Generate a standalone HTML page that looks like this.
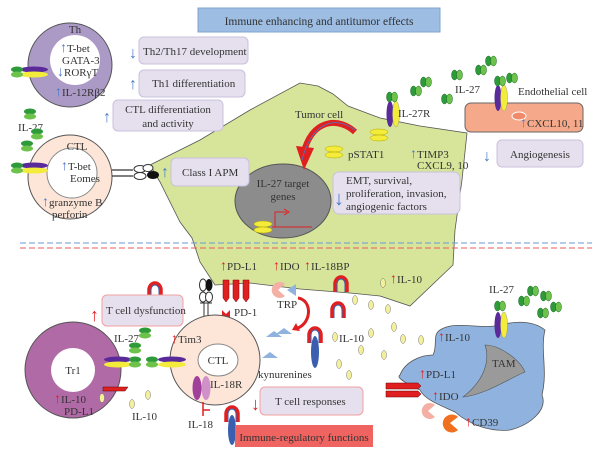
<!DOCTYPE html>
<html><head><meta charset="utf-8"><style>
html,body{margin:0;padding:0;background:#fff;}
svg{display:block;}
text{font-family:"Liberation Serif",serif;fill:#333;}
.r{fill:#e02020;font-size:14px;}
.b{fill:#4a78c8;font-size:14px;}
</style></head><body>
<svg width="600" height="450" viewBox="0 0 600 450" xmlns="http://www.w3.org/2000/svg">
<defs>
<g id="il27"><ellipse cx="-2.5" cy="0" rx="3" ry="5" fill="#2e9a3a" stroke="#1a6a24" stroke-width="0.5"/><ellipse cx="2.5" cy="0" rx="3" ry="5" fill="#6cc24a" stroke="#1a6a24" stroke-width="0.5"/></g>
<g id="il27h"><ellipse cx="0" cy="-2.5" rx="6" ry="3" fill="#2e9a3a"/><ellipse cx="0" cy="2.5" rx="6" ry="3" fill="#6cc24a"/></g>
<g id="stat"><ellipse cx="0" cy="-3" rx="9" ry="3" fill="#f3ec3a" stroke="#b8a800" stroke-width="0.5"/><ellipse cx="0" cy="3" rx="9" ry="3" fill="#f3ec3a" stroke="#b8a800" stroke-width="0.5"/></g>
<g id="il10"><ellipse cx="0" cy="0" rx="2.5" ry="4.5" fill="#f4ef9a" stroke="#777" stroke-width="0.5"/></g>
<g id="rech"><ellipse cx="0" cy="-2.5" rx="14" ry="3" fill="#5a2a9a"/><ellipse cx="0" cy="2.5" rx="14" ry="3" fill="#f3ec3a"/></g>
<g id="recv"><ellipse cx="-3" cy="0" rx="3.5" ry="13" fill="#5a2a9a"/><ellipse cx="3" cy="0" rx="3.5" ry="13" fill="#f3ec3a" stroke="#888" stroke-width="0.4"/></g>
<g id="arch"><path d="M-6,8 V0 A6,7 0 0 1 6,0 V8" fill="none" stroke="#e02020" stroke-width="3.5"/><path d="M-4,8 V0 A4,5 0 0 1 4,0 V8" fill="none" stroke="#3b5fae" stroke-width="1"/></g>
</defs>

<rect x="198" y="8" width="242" height="24" fill="#9dbde3" stroke="#7fa4d2"/>
<text x="319" y="25" font-size="11.5" text-anchor="middle">Immune enhancing and antitumor effects</text>

<path d="M150,165 L200,140 L250,110 L300,83 L318,86 L333,94 L348,106 L380,118 L420,126 L467,133 L462,180 L455,230 L453,265 L410,306 L380,296 L350,293 L300,289 L250,283 L215,285 L200,262 L192,238 L180,222 L160,182 Z" fill="#d6e59a" stroke="#555" stroke-width="0.8"/>

<line x1="20" y1="243" x2="592" y2="243" stroke="#6a9ad4" stroke-dasharray="6,3" stroke-width="1"/>
<line x1="20" y1="248" x2="592" y2="248" stroke="#e85a5a" stroke-dasharray="6,3" stroke-width="1"/>

<ellipse cx="283" cy="201" rx="48" ry="37" fill="#8c8c8c" stroke="#555"/>
<text x="283" y="187" font-size="11" text-anchor="middle">IL-27 target</text>
<text x="283" y="200" font-size="11" text-anchor="middle">genes</text>
<use href="#stat" x="263" y="227"/>
<path d="M272,227 H312 M275,227 V212 H287" fill="none" stroke="#e02020" stroke-width="1"/>
<path d="M284,209 L289,212 L284,215" fill="none" stroke="#e02020"/>
<path d="M355,132 C340,118 315,118 305,148" fill="none" stroke="#e02020" stroke-width="6"/>
<path d="M296,146 L304,170 L314,148 Z" fill="#e02020"/>
<path d="M355,130 C335,115 312,122 302,160" fill="none" stroke="#4a78c8" stroke-width="0.8"/>
<text x="295" y="118" font-size="11">Tumor cell</text>

<circle cx="70" cy="65" r="42" fill="#ab9ac6" stroke="#555"/>
<circle cx="75" cy="60" r="25" fill="#fff"/>
<text x="75" y="33" font-size="11" text-anchor="middle">Th</text>
<text x="60" y="52" font-size="11"><tspan class="b">↑</tspan>T-bet</text>
<text x="62" y="64" font-size="11">GATA-3</text>
<text x="57" y="76" font-size="11"><tspan class="b">↓</tspan>RORγT</text>
<text x="55" y="96" font-size="11"><tspan class="b">↑</tspan>IL-12Rβ2</text>
<use href="#rech" x="34" y="72"/><use href="#il27h" x="17" y="72"/>

<use href="#il27h" x="30" y="114"/>
<text x="18" y="131" font-size="11">IL-27</text>
<use href="#il27h" x="37" y="134"/>
<use href="#il27h" x="27" y="146"/>

<circle cx="70" cy="177" r="42" fill="#fde6d8" stroke="#555"/>
<circle cx="72" cy="173" r="25" fill="#fff" stroke="#888"/>
<text x="77" y="150" font-size="11" text-anchor="middle">CTL</text>
<text x="61" y="170" font-size="11"><tspan class="b">↑</tspan>T-bet</text>
<text x="70" y="182" font-size="11">Eomes</text>
<text x="42" y="206" font-size="11"><tspan class="b">↑</tspan>granzyme B</text>
<text x="52" y="218" font-size="11">perforin</text>
<use href="#rech" x="34" y="168"/><use href="#il27h" x="17" y="168"/>
<path d="M112,170 H133 M112,176 H133" stroke="#333" stroke-width="1.2"/>
<ellipse cx="140" cy="169" rx="6" ry="3.5" fill="#fff" stroke="#333"/>
<ellipse cx="140" cy="176" rx="6" ry="3.5" fill="#fff" stroke="#333"/>
<ellipse cx="148" cy="168" rx="5" ry="3.5" fill="#fff" stroke="#333"/>
<ellipse cx="153" cy="175" rx="6" ry="4" fill="#111"/>

<g font-size="11">
<rect x="139" y="37" width="109" height="27" rx="5" fill="#e6e0ee" stroke="#c9c0dc"/>
<text x="143" y="55">Th2/Th17 development</text>
<text x="129" y="58" class="b" style="font-size:16px">↓</text>
<rect x="139" y="70" width="106" height="27" rx="5" fill="#e6e0ee" stroke="#c9c0dc"/>
<text x="152" y="87">Th1 differentiation</text>
<text x="129" y="89" class="b" style="font-size:16px">↑</text>
<rect x="113" y="100" width="110" height="31" rx="5" fill="#e6e0ee" stroke="#c9c0dc"/>
<text x="168" y="113" text-anchor="middle">CTL differentiation</text>
<text x="168" y="127" text-anchor="middle">and activity</text>
<text x="103" y="122" class="b" style="font-size:16px">↑</text>
<rect x="171" y="158" width="78" height="28" rx="5" fill="#e6e0ee" stroke="#c9c0dc"/>
<text x="182" y="176">Class I APM</text>
<text x="161" y="177" class="b" style="font-size:16px">↑</text>
<rect x="333" y="172" width="127" height="42" rx="6" fill="#e6e0ee" stroke="#c9c0dc"/>
<text x="346" y="184">EMT, survival,</text>
<text x="346" y="197">proliferation, invasion,</text>
<text x="346" y="210">angiogenic factors</text>
<text x="334" y="205" class="b" style="font-size:20px">↓</text>
<rect x="497" y="140" width="86" height="27" rx="5" fill="#e6e0ee" stroke="#c9c0dc"/>
<text x="540" y="158" text-anchor="middle">Angiogenesis</text>
<text x="483" y="161" class="b" style="font-size:16px">↓</text>
</g>

<use href="#stat" x="379" y="135"/>
<use href="#stat" x="334" y="152"/>
<text x="348" y="158" font-size="11">pSTAT1</text>
<use href="#recv" x="393" y="114"/><use href="#il27" x="392" y="97"/>
<text x="398" y="117" font-size="11">IL-27R</text>
<text x="410" y="158" font-size="11"><tspan class="b">↑</tspan>TIMP3</text>
<text x="417" y="169" font-size="11">CXCL9, 10</text>

<use href="#il27" x="416" y="91"/><use href="#il27" x="426" y="82"/>
<use href="#il27" x="447" y="99"/><use href="#il27" x="457" y="75"/>
<use href="#il27" x="481" y="70"/><use href="#il27" x="491" y="61"/>
<use href="#il27" x="512" y="78"/>
<text x="455" y="93" font-size="11">IL-27</text>
<rect x="465" y="103" width="118" height="29" rx="6" fill="#f5a98a" stroke="#666"/>
<ellipse cx="519" cy="116" rx="7" ry="4" fill="#f08a6a" stroke="#fff"/>
<use href="#recv" x="501" y="98"/><use href="#il27" x="500" y="81"/>
<text x="518" y="95" font-size="11">Endothelial cell</text>
<text x="520" y="127" font-size="11"><tspan class="b">↑</tspan>CXCL10, 11</text>

<g font-size="11">
<text x="220" y="270"><tspan class="r">↑</tspan>PD-L1</text>
<text x="273" y="270"><tspan class="r">↑</tspan>IDO</text>
<text x="304" y="270"><tspan class="r">↑</tspan>IL-18BP</text>
<text x="390" y="283"><tspan class="r">↑</tspan>IL-10</text>
</g>
<path d="M223,280 h6 v18 l-3,4 l-3,-4 Z M233,280 h6 v18 l-3,4 l-3,-4 Z M243,280 h6 v18 l-3,4 l-3,-4 Z" fill="#e02020" stroke="#800" stroke-width="0.5"/>
<path d="M222,310 l4,4 l4,-4 v16 h-8 Z" fill="#e02020"/>
<text x="234" y="316" font-size="11">PD-1</text>
<path d="M226,330 H207" stroke="#e02020" stroke-width="1.5"/><path d="M207,324 V336" stroke="#e02020" stroke-width="1.5"/>
<ellipse cx="203" cy="285" rx="3.5" ry="6" fill="#fff" stroke="#333"/>
<ellipse cx="209" cy="285" rx="3.5" ry="6" fill="#111"/>
<ellipse cx="203" cy="297" rx="3.5" ry="5" fill="#fff" stroke="#333"/>
<ellipse cx="209" cy="297" rx="3.5" ry="5" fill="#fff" stroke="#333"/>
<path d="M200,303 h12 M204,303 V322 M208,303 V322" stroke="#333" stroke-width="1"/>
<path d="M285,284 A8,8 0 1 0 285,296 L278,290 Z" fill="#f4b0a4"/>
<path d="M287,290 L296,284 L296,296 Z" fill="#8fb3de"/>
<text x="277" y="308" font-size="11">TRP</text>
<path d="M298,298 C312,300 312,322 298,328" fill="none" stroke="#e02020" stroke-width="3"/>
<path d="M296,323 L292,330 L300,331 Z" fill="#e02020"/>
<path d="M266,337 L274,331 L282,337 Z M276,334 L284,328 L292,334 Z M262,358 L270,352 L278,358 Z" fill="#8fb3de"/>
<text x="258" y="378" font-size="11">kynurenines</text>
<use href="#arch" x="315" y="335"/>
<ellipse cx="315" cy="352" rx="4" ry="16" fill="#3b5fae"/>
<use href="#arch" x="341" y="284"/>
<use href="#arch" x="338" y="310"/>
<use href="#arch" x="155" y="290"/>
<use href="#arch" x="232" y="414"/>
<ellipse cx="232" cy="430" rx="4" ry="15" fill="#3b5fae"/>
<text x="339" y="342" font-size="11">IL-10</text>

<use href="#il10" x="383" y="283"/><use href="#il10" x="371" y="305"/><use href="#il10" x="388" y="309"/>
<use href="#il10" x="371" y="333"/><use href="#il10" x="394" y="327"/><use href="#il10" x="403" y="339"/>
<use href="#il10" x="421" y="340"/><use href="#il10" x="335" y="337"/><use href="#il10" x="361" y="350"/>
<use href="#il10" x="384" y="355"/><use href="#il10" x="339" y="364"/><use href="#il10" x="349" y="375"/>
<use href="#il10" x="447" y="351"/><use href="#il10" x="355" y="300"/>

<circle cx="73" cy="370" r="48" fill="#b06aa6" stroke="#555"/>
<circle cx="73" cy="370" r="22" fill="#fff"/>
<text x="73" y="374" font-size="11" text-anchor="middle">Tr1</text>
<text x="54" y="403" font-size="11"><tspan class="r">↑</tspan>IL-10</text>
<text x="64" y="415" font-size="11">PD-L1</text>
<use href="#rech" x="118" y="362"/><use href="#il27h" x="135" y="362"/>
<path d="M103,387 h25 l-3,4 h-22 Z" fill="#e02020" stroke="#600" stroke-width="0.5"/>
<use href="#il10" x="102" y="398"/><use href="#il10" x="132" y="404"/><use href="#il10" x="148" y="395"/>
<text x="132" y="420" font-size="11">IL-10</text>
<use href="#il27h" x="145" y="333"/><use href="#il27h" x="135" y="348"/>
<text x="114" y="342" font-size="11">IL-27</text>
<rect x="102" y="295" width="81" height="31" rx="5" fill="#e6e0ee" stroke="#f0a0a0"/>
<text x="106" y="314" font-size="11">T cell dysfunction</text>
<text x="90" y="321" class="r" style="font-size:18px">↑</text>

<circle cx="215" cy="360" r="45" fill="#fde6d8" stroke="#555"/>
<ellipse cx="218" cy="360" rx="20" ry="16" fill="#fff" stroke="#888"/>
<text x="218" y="364" font-size="11" text-anchor="middle">CTL</text>
<text x="171" y="343" font-size="11"><tspan class="r">↑</tspan>Tim3</text>
<use href="#rech" x="172" y="362"/><use href="#il27h" x="152" y="362"/>
<ellipse cx="197" cy="388" rx="4.5" ry="12" fill="#a0409a"/>
<ellipse cx="206" cy="388" rx="4.5" ry="12" fill="#d090c8"/>
<text x="210" y="388" font-size="11">IL-18R</text>
<path d="M203,402 V416 M203,410 H210" stroke="#e02020" stroke-width="1.5"/>
<text x="188" y="428" font-size="11">IL-18</text>

<rect x="260" y="387" width="103" height="28" rx="5" fill="#e6e0ee" stroke="#f0a0a0"/>
<text x="275" y="405" font-size="11">T cell responses</text>
<text x="251" y="410" class="r" style="font-size:18px">↓</text>
<rect x="235" y="425" width="138" height="22" fill="#ef6461"/>
<text x="304" y="441" font-size="11" text-anchor="middle">Immune-regulatory functions</text>

<path d="M440,330 C455,320 480,330 500,325 C520,320 535,322 545,330 C540,350 548,370 542,395 C548,410 530,425 510,430 C490,432 470,425 455,412 C440,405 425,400 420,390 C410,385 395,378 400,375 C405,362 420,355 433,355 C438,345 432,335 440,330 Z" fill="#8fb3de" stroke="#555" stroke-width="0.8"/>
<path d="M485,345 C500,345 520,360 525,372 C510,378 485,395 463,397 C485,380 490,360 485,345 Z" fill="#9a9a9a" stroke="#555" stroke-width="0.6"/>
<text x="492" y="367" font-size="11">TAM</text>
<text x="438" y="341" font-size="11"><tspan class="r">↑</tspan>IL-10</text>
<text x="419" y="378" font-size="11"><tspan class="r">↑</tspan>PD-L1</text>
<text x="432" y="400" font-size="11"><tspan class="r">↑</tspan>IDO</text>
<text x="465" y="426" font-size="11"><tspan class="r">↑</tspan>CD39</text>
<path d="M386,383 h32 l3,3 l-3,3 h-32 Z M386,391 h32 l3,3 l-3,3 h-32 Z" fill="#e02020" stroke="#600" stroke-width="0.5"/>
<path d="M435,405 A8,8 0 1 0 435,417 L428,411 Z" fill="#f4b0a4"/>
<path d="M458,417 A9,9 0 1 0 458,430 L450,423 Z" fill="#f07020"/>
<use href="#recv" x="501" y="325"/><use href="#il27" x="500" y="306"/>
<text x="489" y="293" font-size="11">IL-27</text>
<use href="#il27" x="524" y="301"/><use href="#il27" x="533" y="291"/>
<use href="#il27" x="546" y="296"/><use href="#il27" x="543" y="313"/>
<use href="#il27" x="556" y="307"/>
</svg>
</body></html>
